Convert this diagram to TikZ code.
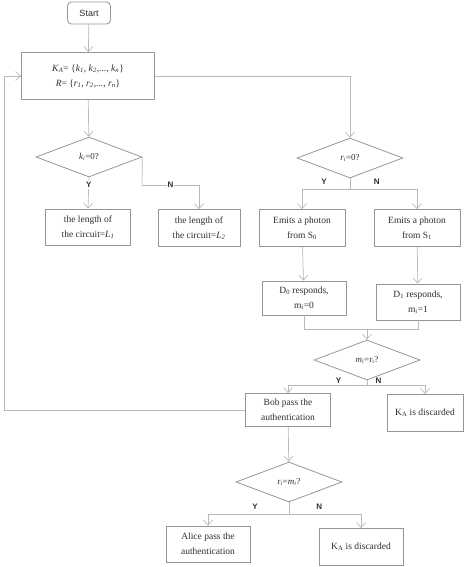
\documentclass[tikz,border=0pt]{standalone}
\usepackage{fontspec}
\setmainfont{Liberation Serif}
\setsansfont{Liberation Sans}
\usepackage{xcolor}
\usepackage{tikz}
\usetikzlibrary{arrows.meta,shapes.geometric}

\definecolor{boxline}{RGB}{150,150,150}
\definecolor{flowline}{RGB}{185,185,185}
\definecolor{ink}{RGB}{45,45,45}
\newcommand{\itsub}[2]{\textit{#1}\textsubscript{\textit{#2}}}

\begin{document}
\begin{tikzpicture}[x=1pt,y=-1pt,>={Straight Barb[length=5pt,width=9pt]},
    stepbox/.style={draw=boxline, line width=0.8pt, align=center, text=ink,
        font=\fontsize{9.5}{15}\selectfont, inner sep=2pt},
    decision/.style={diamond, draw=boxline, line width=0.8pt, text=ink,
        minimum width=106pt, minimum height=40pt, inner sep=0pt, aspect=2.6,
        font=\fontsize{9}{11}\selectfont},
    flow/.style={draw=flowline, line width=0.7pt},
    yn/.style={font=\sffamily\bfseries\fontsize{8}{9}\selectfont, text=ink, inner sep=1pt}]
    \useasboundingbox (0,0) rectangle (474,567);

    % Start and key lists
    \node[stepbox, rounded corners=4pt, font=\sffamily\fontsize{9}{11}\selectfont,
        minimum width=43pt, minimum height=22pt] (start) at (89,13) {Start};
    \node[stepbox, minimum width=133pt, minimum height=47pt] (keys) at (88,76)
        {\itsub{K}{A}= \{\itsub{k}{1}, \itsub{k}{2},..., \itsub{k}{n}\}\\
         \textit{R}= \{\itsub{r}{1}, \itsub{r}{2},..., \itsub{r}{n}\}};

    % Left branch: circuit length
    \node[decision] (kdec) at (89,157) {\itsub{k}{i}=0?};
    \node[stepbox, minimum width=85pt, minimum height=36pt] (lenone) at (88,227)
        {the length of\\the circuit=\itsub{L}{1}};
    \node[stepbox, minimum width=82pt, minimum height=37pt] (lentwo) at (199,228)
        {the length of\\the circuit=\itsub{L}{2}};

    % Right branch: photon emission
    \node[decision] (rdec) at (350,158) {\itsub{r}{i}=0?};
    \node[stepbox, minimum width=86pt, minimum height=37pt] (emitzero) at (302,228)
        {Emits a photon\\from S\textsubscript{0}};
    \node[stepbox, minimum width=86pt, minimum height=37pt] (emitone) at (417,228)
        {Emits a photon\\from S\textsubscript{1}};
    \node[stepbox, minimum width=84pt, minimum height=34pt] (dzero) at (304,298)
        {D\textsubscript{0} responds,\\m\textsubscript{i}=0};
    \node[stepbox, minimum width=84pt, minimum height=36pt] (done) at (418,302)
        {D\textsubscript{1} responds,\\m\textsubscript{i}=1};

    % Checks
    \node[decision] (mdec) at (367,360) {\itsub{m}{i}=r\textsubscript{i}?};
    \node[stepbox, minimum width=85pt, minimum height=33pt] (bob) at (288,410)
        {Bob pass the\\authentication};
    \node[stepbox, minimum width=76pt, minimum height=37pt] (discone) at (425,413)
        {K\textsubscript{A} is discarded};
    \node[decision] (rmdec) at (289,482) {r\textsubscript{i}=\itsub{m}{i}?};
    \node[stepbox, minimum width=84pt, minimum height=36pt] (alice) at (208,544)
        {Alice pass the\\authentication};
    \node[stepbox, minimum width=84pt, minimum height=37pt] (disctwo) at (361,547)
        {K\textsubscript{A} is discarded};

    % Junction points
    \coordinate (kturn) at (142,185);
    \coordinate (rsplit) at (350,189);
    \coordinate (djoin) at (367,329);
    \coordinate (msplit) at (367,385);
    \coordinate (rmsplit) at (289,514);
    \coordinate (loop) at (4,410);

    % Connectors
    \draw[flow,->] (start) -- (keys);
    \draw[flow,->] (keys.east) -| (rdec.north);
    \draw[flow,->] (keys) -- (kdec);
    \draw[flow,->] (kdec.south) -- node[yn, fill=white, pos=0.25] {Y} (lenone.north);
    \draw[flow] (kdec.east) -- (kturn);
    \draw[flow,->] (kturn) -| node[yn, fill=white, pos=0.25] {N} (lentwo.north);

    \draw[flow] (rdec.south) -- (rsplit);
    \draw[flow,->] (rsplit) -| node[yn, pos=0.27, above=3pt] {Y} (emitzero.north);
    \draw[flow,->] (rsplit) -| node[yn, pos=0.2, above=3pt] {N} (emitone.north);
    \draw[flow,->] (emitzero) -- (dzero);
    \draw[flow,->] (emitone) -- (done);
    \draw[flow] (dzero.south) |- (djoin);
    \draw[flow] (done.south) |- (djoin);
    \draw[flow,->] (djoin) -- (mdec.north);

    \draw[flow] (mdec.south) -- (msplit);
    \draw[flow,->] (msplit) -| node[yn, pos=0.18, above=0pt] {Y} (bob.north);
    \draw[flow,->] (msplit) -| node[yn, pos=0.1, above=0pt] {N} (discone.north);
    \draw[flow] (bob.west) -- (loop);
    \draw[flow,->] (loop) |- (keys.west);

    \draw[flow,->] (bob) -- (rmdec);
    \draw[flow] (rmdec.south) -- (rmsplit);
    \draw[flow,->] (rmsplit) -| node[yn, pos=0.21, above=3pt] {Y} (alice.north);
    \draw[flow,->] (rmsplit) -| node[yn, pos=0.21, above=3pt] {N} (disctwo.north);
\end{tikzpicture}
\end{document}
